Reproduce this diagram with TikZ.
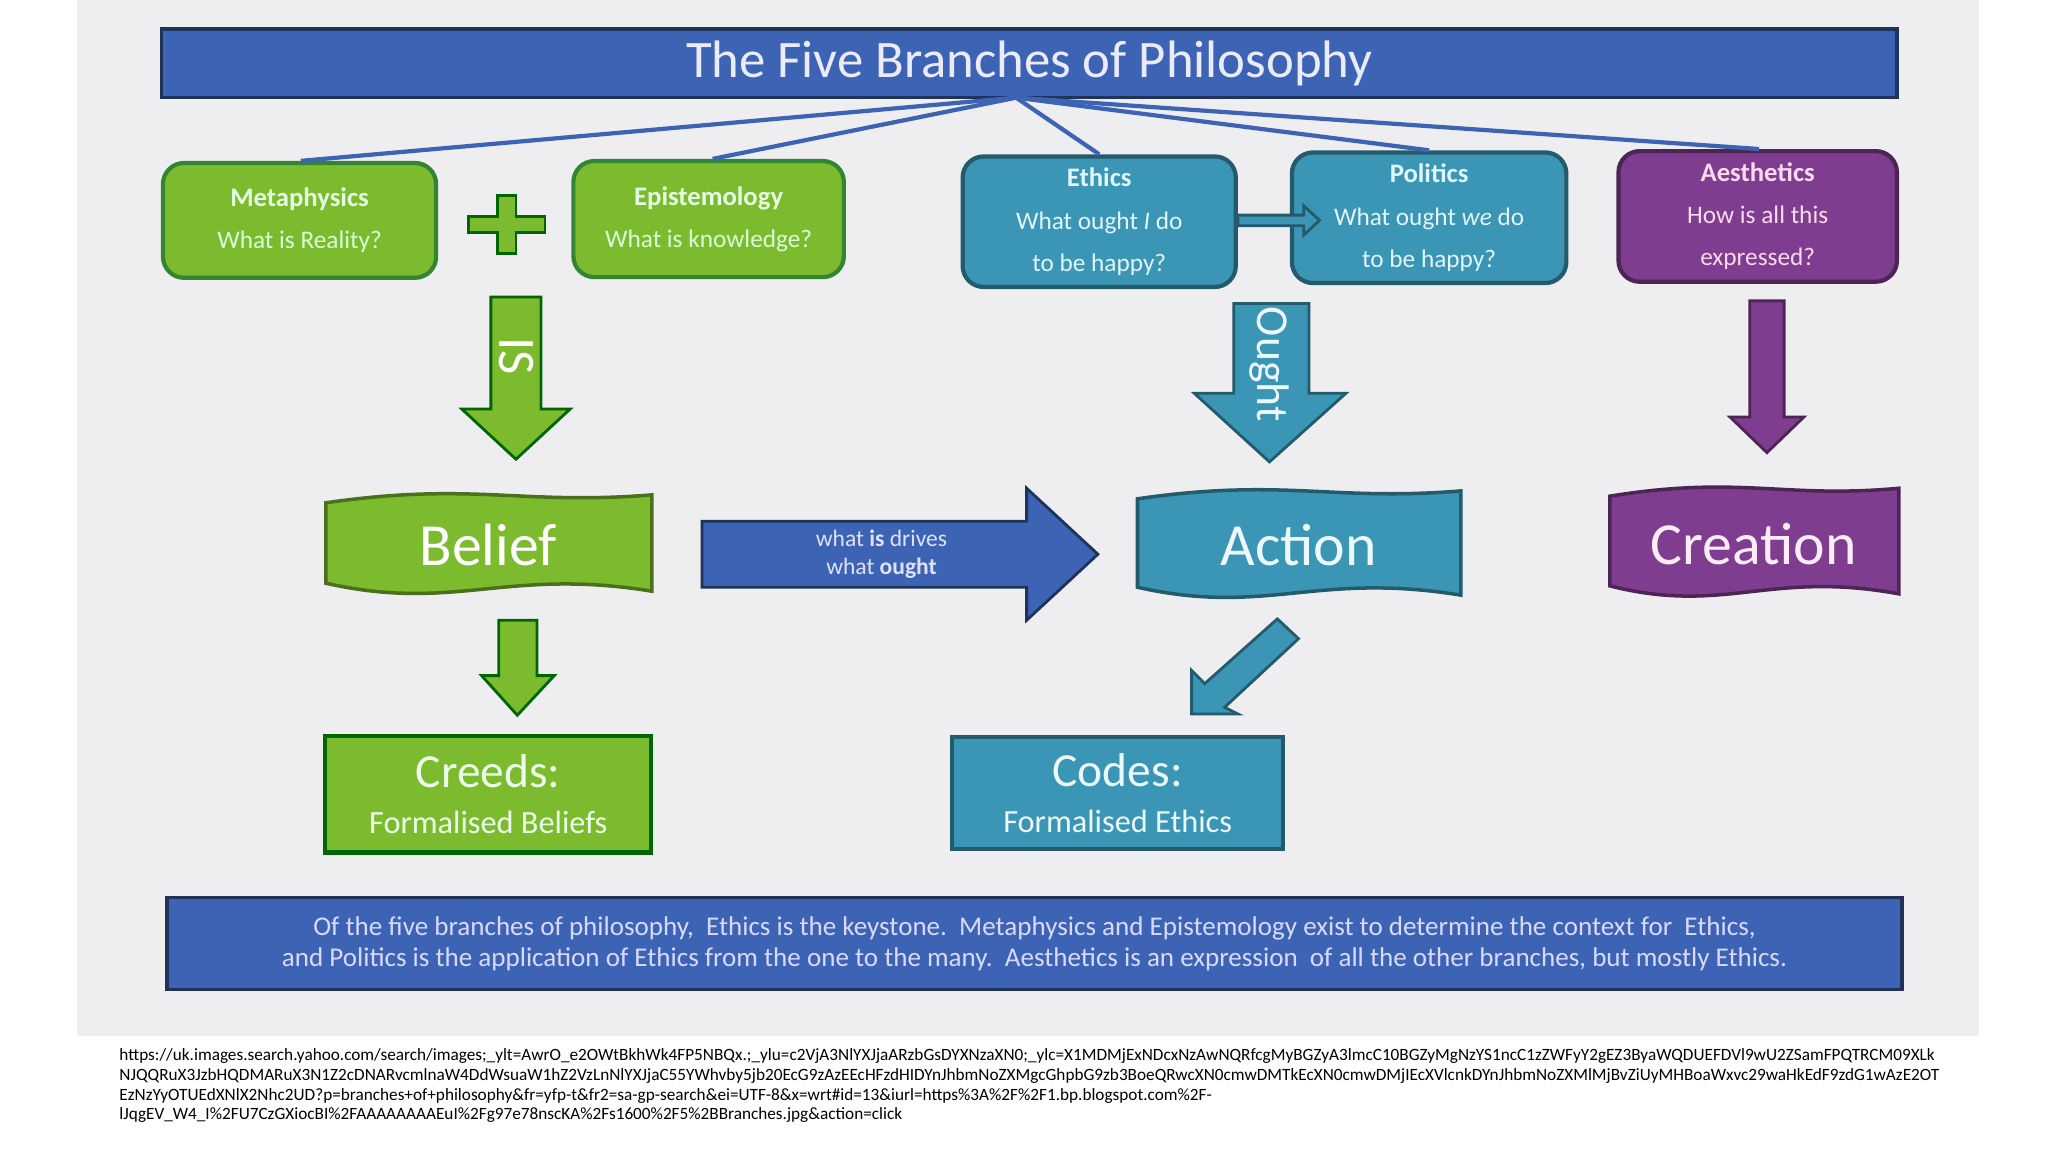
\documentclass[tikz,border=0pt]{standalone}
\usepackage{fontspec}
\setmainfont{Carlito}
\newcommand\fsz[1]{\fontsize{#1pt}{1.15\dimexpr#1pt\relax}\selectfont}
\begin{document}
\begin{tikzpicture}[x=0.013196cm,y=-0.013196cm,
 fs/.style={font=\fsz{#1}},
 gbox/.style={draw=green!40!black!80!,fill=grn,line width=1.2pt,rounded corners=6pt},
 tbox/.style={draw=tea!60!black,fill=tea,line width=1.2pt,rounded corners=6pt},
 pbox/.style={draw=pur!60!black,fill=pur,line width=1.2pt,rounded corners=6pt},
 bbar/.style={draw=blu!50!black,fill=blu,line width=1pt},
 lnk/.style={draw=blu,line width=1.2pt}]
\definecolor{grn}{HTML}{7DBB2E}
\definecolor{tea}{HTML}{3A96B4}
\definecolor{pur}{HTML}{7E3D8E}
\definecolor{blu}{HTML}{3D64B4}
\definecolor{bg}{HTML}{EEEEF0}
\useasboundingbox (0,0) rectangle (1552,873);
\fill[white] (0,0) rectangle (1552,873);
\fill[bg] (58,0) rectangle (1500,785);
% title
\node[bbar,minimum width=1315*0.013196cm,minimum height=52*0.013196cm,text=white!92!blue,fs=15] (title) at (780,48) {The Five Branches of Philosophy};
\coordinate (hub) at (770,74);
% top boxes
\node[gbox,minimum width=207*0.013196cm,minimum height=87*0.013196cm,align=center] (meta) at (227,167) {{\fsz{7.6}\bfseries\color{white!90!green}Metaphysics}\\{\fsz{7.2}\color{white!85!green}What is Reality?}};
\node[gbox,minimum width=205*0.013196cm,minimum height=88*0.013196cm,align=center] (epi) at (537,166) {{\fsz{7.6}\bfseries\color{white!90!green}Epistemology}\\{\fsz{7.2}\color{white!85!green}What is knowledge?}};
\node[tbox,minimum width=207*0.013196cm,minimum height=91*0.013196cm,align=center,text=white!88!cyan] (eth) at (833,168) {{\fsz{7.6}\bfseries Ethics}\\{\fsz{7.2}What ought \emph{I} do}\\{\fsz{7.2}to be happy?}};
\node[tbox,minimum width=208*0.013196cm,minimum height=91*0.013196cm,align=center,text=white!88!cyan] (pol) at (1083,165) {{\fsz{7.6}\bfseries Politics}\\{\fsz{7.2}What ought \emph{we} do}\\{\fsz{7.2}to be happy?}};
\node[pbox,minimum width=211*0.013196cm,minimum height=94*0.013196cm,align=center,text=white!85!magenta] (aes) at (1332,164) {{\fsz{7.6}\bfseries Aesthetics}\\{\fsz{7.2}How is all this}\\{\fsz{7.2}expressed?}};
\foreach \b/\x in {meta/228,epi/540,eth/833,pol/1083,aes/1333}
  \draw[lnk] (hub) -- (\b.north -| \x,0);
% plus
\fill[grn,draw=green!40!black,line width=0.8pt] (377,148) -- (391,148) -- (391,164) -- (413,164) -- (413,176) -- (391,176) -- (391,192) -- (377,192) -- (377,176) -- (355,176) -- (355,164) -- (377,164) -- cycle;
% ethics->politics
\fill[tea,draw=tea!60!black,line width=0.8pt] (eth.east |- 0,163) -- (988,163) -- (988,156) -- (1000,167) -- (988,178) -- (988,171) -- (eth.east |- 0,171) -- cycle;
% banners
\newcommand\banner[6]{%
 \fill[#5,draw=#5!60!black,line width=1pt] (#1,#2+6) .. controls ({#1+(#3-#1)*0.45},#2-10) and ({#1+(#3-#1)*0.6},#2+8) .. (#3,#2) -- (#3,#4-4) .. controls ({#3-(#3-#1)*0.45},#4-22) and ({#3-(#3-#1)*0.6},#4+12) .. (#1,#4-10) -- cycle;
 \coordinate (#6) at ({(#1+#3)/2},{(#2+#4)/2});}
\banner{247}{375}{494}{452}{grn}{beliefc}
\banner{862}{372}{1107}{455}{tea}{actionc}
\banner{1220}{370}{1439}{454}{pur}{creationc}
\node[text=white,fs=17] (belief) at (370,413) {Belief};
\node[text=white!92!cyan,fs=17] (action) at (984,413) {Action};
\node[text=white!92!magenta,fs=17] (creation) at (1329,412) {Creation};
% down arrows
\fill[grn,draw=green!40!black,line width=0.8pt] (372,225) -- (410,225) -- (410,310) -- (432,310) -- (391,348) -- (350,310) -- (372,310) -- cycle;
\node[rotate=-90,text=white,fs=15] (is) at (391,270) {IS};
\fill[tea,draw=tea!60!black,line width=0.8pt] (935,230) -- (992,230) -- (992,298) -- (1020,298) -- (962,350) -- (905,298) -- (935,298) -- cycle;
\node[rotate=-90,text=white!92!cyan,fs=13] (ought) at (962,276) {Ought};
\fill[pur,draw=pur!60!black,line width=0.8pt] (1326,228) -- (1352,228) -- (1352,316) -- (1367,316) -- (1339,343) -- (1311,316) -- (1326,316) -- cycle;
% big blue arrow
\fill[blu,draw=blu!50!black,line width=0.8pt] (532,395) -- (778,395) -- (778,370) -- (832,420) -- (778,470) -- (778,445) -- (532,445) -- cycle;
\node[align=center,text=white!88!blue,fs=6.7] (drive) at (668,420) {what \textbf{is} drives\\what \textbf{ought}};
% belief->creeds
\fill[grn,draw=green!40!black,line width=0.8pt] (378,470) -- (407,470) -- (407,512) -- (420,512) -- (392,542) -- (365,512) -- (378,512) -- cycle;
% action->codes diagonal
\fill[tea,draw=tea!60!black,line width=0.8pt] (968,469) -- (984,484) -- (928,536) -- (938,541) -- (903,541) -- (903,508) -- (913,518) -- cycle;
% bottom boxes
\node[draw=green!40!black,fill=grn,line width=1.2pt,minimum width=247*0.013196cm,minimum height=88*0.013196cm,align=center,text=white!92!green] (creeds) at (370,602) {{\fsz{13.5}Creeds:}\\[1pt]{\fsz{9.2}Formalised Beliefs}};
\node[draw=tea!60!black,fill=tea,line width=1.2pt,minimum width=251*0.013196cm,minimum height=85*0.013196cm,align=center,text=white!92!cyan] (codes) at (847,601) {{\fsz{13.5}Codes:}\\[1pt]{\fsz{9.2}Formalised Ethics}};
% bottom bar
\node[bbar,minimum width=1315*0.013196cm,minimum height=70*0.013196cm,align=center,text=white!85!blue,fs=7.7] (note) at (784,715) {Of the five branches of philosophy,\ \ Ethics is the keystone.\ \ Metaphysics and Epistemology exist to determine the context for\ \ Ethics,\\and Politics is the application of Ethics from the one to the many.\ \ Aesthetics is an expression\ \ of all the other branches, but mostly Ethics.};
% url
\node[anchor=north west,align=left,fs=4.9,inner sep=0] (url) at (90,794) {https://uk.images.search.yahoo.com/search/images;\_ylt=AwrO\_e2OWtBkhWk4FP5NBQx.;\_ylu=c2VjA3NlYXJjaARzbGsDYXNzaXN0;\_ylc=X1MDMjExNDcxNzAwNQRfcgMyBGZyA3lmcC10BGZyMgNzYS1ncC1zZWFyY2gEZ3ByaWQDUEFDVl9wU2ZSamFPQTRCM09XLk\\NJQQRuX3JzbHQDMARuX3N1Z2cDNARvcmlnaW4DdWsuaW1hZ2VzLnNlYXJjaC55YWhvby5jb20EcG9zAzEEcHFzdHIDYnJhbmNoZXMgcGhpbG9zb3BoeQRwcXN0cmwDMTkEcXN0cmwDMjIEcXVlcnkDYnJhbmNoZXMlMjBvZiUyMHBoaWxvc29waHkEdF9zdG1wAzE2OT\\EzNzYyOTUEdXNlX2Nhc2UD?p=branches+of+philosophy\&fr=yfp-t\&fr2=sa-gp-search\&ei=UTF-8\&x=wrt\#id=13\&iurl=https\%3A\%2F\%2F1.bp.blogspot.com\%2F-\\lJqgEV\_W4\_I\%2FU7CzGXiocBI\%2FAAAAAAAAEuI\%2Fg97e78nscKA\%2Fs1600\%2F5\%2BBranches.jpg\&action=click};
\end{tikzpicture}
\end{document}
